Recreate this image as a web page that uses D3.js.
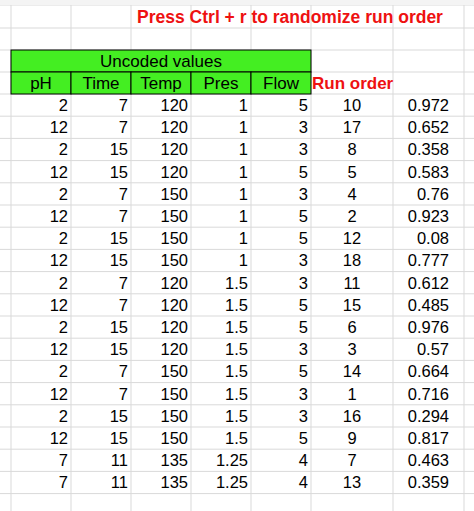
<!DOCTYPE html>
<html><head><meta charset="utf-8">
<script src="https://cdn.jsdelivr.net/npm/d3@7"></script>
<style>body{margin:0;background:#fff}svg{display:block;font-family:Arial,"Liberation Sans",sans-serif}</style>
</head><body><svg id="c" width="474" height="511"></svg>
<script>
// datos de la hoja
var pH    = [2,12,2,12,2,12,2,12,2,12,2,12,2,12,2,12,7,7];
var time  = [7,7,15,15,7,7,15,15,7,7,15,15,7,7,15,15,11,11];
var temp  = [120,120,120,120,150,150,150,150,120,120,120,120,150,150,150,150,135,135];
var pres  = ["1","1","1","1","1","1","1","1","1.5","1.5","1.5","1.5","1.5","1.5","1.5","1.5","1.25","1.25"];
var flow  = [5,3,3,5,3,5,5,3,3,5,5,3,5,3,3,5,4,4];
var runOrder = [10,17,8,5,4,2,12,18,11,15,6,3,14,1,16,9,7,13];
var rnd   = ["0.972","0.652","0.358","0.583","0.76","0.923","0.08","0.777","0.612","0.485","0.976","0.57","0.664","0.716","0.294","0.817","0.463","0.359"];
var headers = ["pH","Time","Temp","Pres","Flow"];

var svg = d3.select("#c");
var colEdges = [-50,11,71,131,191,251,311,393,464,540];
var x = d3.scaleOrdinal().domain(d3.range(colEdges.length)).range(colEdges);
var rowH = 22.2;
var y = d3.scaleLinear().domain([0,18]).range([94,94+18*rowH]);

// cuadricula
var hLines = [5,28,50,72].concat(d3.range(0,20).map(i=>y(i)));
svg.selectAll(".h").data(hLines).enter().append("line")
  .attr("x1",0).attr("x2",474).attr("y1",d=>d).attr("y2",d=>d)
  .attr("stroke","#d9d9d9").attr("stroke-width",1);
svg.selectAll(".v").data(colEdges.slice(1,9)).enter().append("line")
  .attr("x1",d=>d).attr("x2",d=>d).attr("y1",0).attr("y2",511)
  .attr("stroke","#d9d9d9");
// fila de letras arriba
svg.append("rect").attr("x",0).attr("y",0).attr("width",474).attr("height",5).attr("fill","#f4f4f4");

// titulo
svg.append("text").attr("x",290).attr("y",23).attr("text-anchor","middle")
  .attr("fill","#ee1111").attr("font-weight","bold").attr("font-size",17.5)
  .text("Press Ctrl + r  to randomize run order");

// caja verde
svg.append("rect").attr("x",11).attr("y",50).attr("width",300).attr("height",22)
  .attr("fill","#44ee22").attr("stroke","#000");
svg.append("text").attr("x",161).attr("y",67).attr("text-anchor","middle").attr("font-size",17)
  .text("Uncoded values");
headers.forEach(function(h,i){
  svg.append("rect").attr("x",x(i+1)).attr("y",72).attr("width",60).attr("height",22)
    .attr("fill","#44ee22").attr("stroke","#000");
  svg.append("text").attr("x",x(i+1)+30).attr("y",89).attr("text-anchor","middle").attr("font-size",17).text(h);
});
svg.append("text").attr("x",312).attr("y",89).attr("fill","#ee1111").attr("font-weight","bold")
  .attr("font-size",17).text("Run order");

// datos
var cols = [pH,time,temp,pres,flow];
cols.forEach(function(col,c){
  svg.selectAll(null).data(col).enter().append("text")
    .attr("x",x(c+2)-3).attr("y",(d,i)=>y(i)+17).attr("text-anchor","end").attr("font-size",16.5)
    .text(d=>d);
});
svg.selectAll(null).data(runOrder).enter().append("text")
  .attr("x",(x(6)+x(7))/2).attr("y",(d,i)=>y(i)+17).attr("text-anchor","middle").attr("font-size",16.5)
  .text(d=>d);
svg.selectAll(null).data(rnd).enter().append("text")
  .attr("x",449).attr("y",(d,i)=>y(i)+17).attr("text-anchor","end").attr("font-size",16.5)
  .text(d=>d);
</script></body></html>
